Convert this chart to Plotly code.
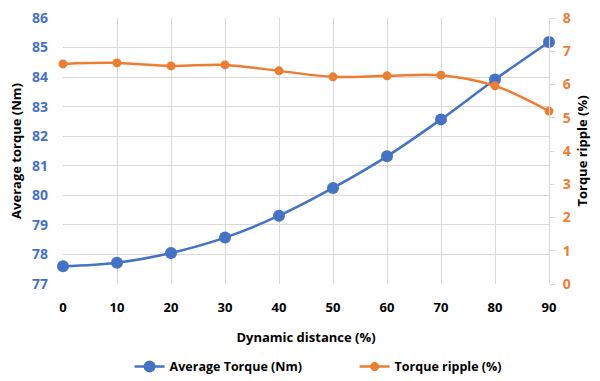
import plotly.graph_objects as go

distance = [0, 10, 20, 30, 40, 50, 60, 70, 80, 90]
avg_torque = [77.6, 77.72, 78.05, 78.57, 79.31, 80.25, 81.32, 82.57, 83.92, 85.19]
torque_ripple = [6.62, 6.65, 6.56, 6.59, 6.41, 6.23, 6.26, 6.28, 5.96, 5.2]

BLUE = "#4472C4"
ORANGE = "#ED7D31"
FONT = "Open Sans"

fig = go.Figure()
fig.add_trace(go.Scatter(
    x=distance, y=avg_torque, name="Average Torque (Nm)",
    mode="lines+markers", line=dict(color=BLUE, width=2.5, shape="spline"),
    marker=dict(size=12, color=BLUE), cliponaxis=False,
))
fig.add_trace(go.Scatter(
    x=distance, y=torque_ripple, name="Torque ripple (%)", yaxis="y2",
    mode="lines+markers", line=dict(color=ORANGE, width=2.5, shape="spline"),
    marker=dict(size=9, color=ORANGE), cliponaxis=False,
))

fig.update_layout(
    width=600, height=381,
    margin=dict(l=63, r=51, t=18, b=97, autoexpand=False),
    plot_bgcolor="white", paper_bgcolor="white",
    font=dict(family=FONT, size=13, color="black"),
    showlegend=True,
    legend=dict(orientation="h", x=0.6, xanchor="center", y=-0.312, yanchor="middle",
                font=dict(size=12.5, color="black", family=FONT, weight="bold"),
                entrywidth=180, entrywidthmode="pixels", tracegroupgap=0),
    xaxis=dict(
        range=[0, 90], tickvals=distance, showgrid=True, gridcolor="#D9D9D9", gridwidth=1,
        zeroline=False, showline=False, automargin=False,
        tickfont=dict(size=13, color="black", family=FONT, weight="bold"),
        title=dict(text="<b>Dynamic distance (%)</b>", font=dict(size=13), standoff=17),
        ticks="", ticklabelstandoff=14,
    ),
    yaxis=dict(
        range=[77, 86], dtick=1, showgrid=True, gridcolor="#D9D9D9", gridwidth=1,
        zeroline=False, showline=False, automargin=False,
        tickfont=dict(size=14, color=BLUE, family=FONT, weight="bold"),
        title=dict(text="<b>Average torque (Nm)</b>", font=dict(size=13), standoff=7),
        ticks="", ticklabelstandoff=14,
    ),
    yaxis2=dict(
        range=[0, 8], dtick=1, overlaying="y", side="right", showgrid=False,
        zeroline=False, showline=True, linecolor="#D9D9D9", linewidth=1, automargin=False,
        ticks="outside", ticklen=5, tickcolor="#D9D9D9", ticklabelstandoff=5,
        tickfont=dict(size=14, color=ORANGE, family=FONT, weight="bold"),
        title=dict(text="<b>Torque ripple (%)</b>", font=dict(size=13), standoff=8),
    ),
)

fig.write_html("out.html", config={"displayModeBar": False},
               post_script="document.body.style.margin='0px';")
